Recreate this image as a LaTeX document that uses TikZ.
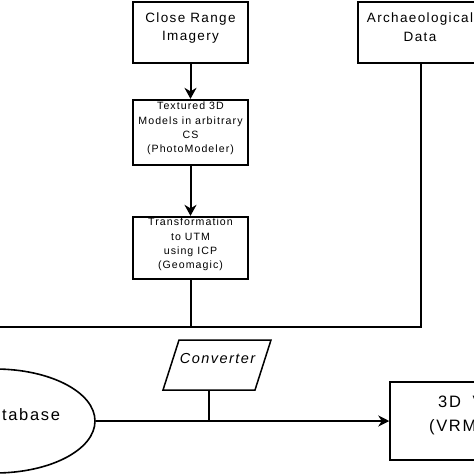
\documentclass[tikz,border=0pt]{standalone}
\usepackage{fontspec}
\setmainfont{Liberation Sans}[LetterSpace=10]
\usetikzlibrary{arrows.meta,shapes.geometric}
\newcommand\fbig{\fontsize{13.5}{18.5}\selectfont}
\newcommand\fsmall{\fontsize{10.6}{14.2}\selectfont}
\newcommand\flarge{\fontsize{16.5}{25}\selectfont}
\begin{document}
\begin{tikzpicture}[x=1pt,y=-1pt,
  box/.style={draw, line width=2.3pt, inner sep=0pt},
  thinbox/.style={draw, line width=1.5pt, inner sep=0pt},
  lbl/.style={align=center, inner sep=0pt},
  conn/.style={line width=2pt},
  arr/.style={conn, -{Stealth[length=11pt,width=12pt,inset=3.5pt]}},
  thinarr/.style={line width=1.6pt, -{Stealth[length=11pt,width=11pt,inset=3.5pt]}}]
\useasboundingbox (0,0) rectangle (474,474);
\clip (0,0) rectangle (474,474);
% boxes
\node[box, minimum width=115pt, minimum height=61pt] (cri) at (190.5,32.5) {};
\node[box, minimum width=115pt, minimum height=65pt] (tex) at (190.5,132.5) {};
\node[box, minimum width=115pt, minimum height=62pt] (tra) at (190.5,248) {};
\node[box, minimum width=126pt, minimum height=61pt] (arch) at (421,32.5) {};
\node[thinbox, minimum width=102pt, minimum height=78pt] (v3d) at (441,421) {};
\node[draw, line width=1.6pt, ellipse, minimum width=200pt, minimum height=104pt, inner sep=0pt] (db) at (-5,421) {};
% texts
\node[lbl, font=\fbig] (cri-t) at (190.5,28) {Close Range\\Imagery};
\node[lbl, font=\fsmall] (tex-t) at (190.5,128.5) {Textured 3D\\Models in arbitrary\\CS\\(PhotoModeler)};
\node[lbl, font=\fsmall] (tra-t) at (190.5,244.5) {Transformation\\to UTM\\using ICP\\(Geomagic)};
\node[lbl, font=\fbig] (arch-t) at (420,27) {Archaeological\\Data};
\node[lbl, font=\flarge, anchor=west] (db-t) at (2,415) {tabase};
\node[lbl, font=\flarge, anchor=west] (v3d-a) at (438,402) {3D\hspace{5.5pt} V};
\node[lbl, font=\flarge, anchor=west] (v3d-b) at (429,427) {(VRM};
% converter parallelogram
\coordinate (c1) at (179,340);
\coordinate (c2) at (271,340);
\coordinate (c3) at (255,390);
\coordinate (c4) at (163,390);
\draw[line width=1.5pt, line join=miter] (c1) -- (c2) -- (c3) -- (c4) -- cycle;
\coordinate (cvb) at (209,390);
\node[lbl, font=\fontsize{14.5}{18}\selectfont\itshape] (conv-t) at (217.5,359) {Converter};
% connectors
\coordinate (lft) at (-5,327);
\draw[arr] (cri.south) -- (tex.north);
\draw[arr] (tex.south) -- (tra.north);
\draw[conn] (tra.south) -- (tra.south |- lft);
\draw[conn] (arch.south) |- (lft);
\draw[line width=1.6pt] (cvb) -- (cvb |- db.east);
\draw[thinarr] (db.east) -- (v3d.west);
\end{tikzpicture}
\end{document}
